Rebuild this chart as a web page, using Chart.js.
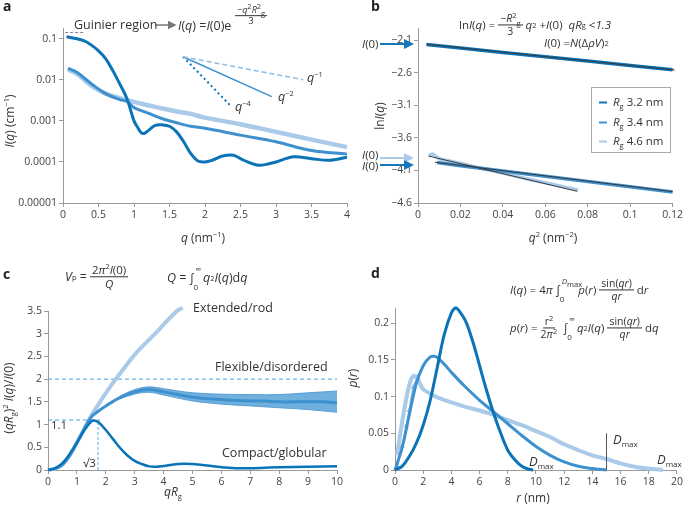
<!DOCTYPE html>
<html>
<head>
<meta charset="utf-8">
<script src="https://cdn.jsdelivr.net/npm/chart.js@4.4.1/dist/chart.umd.min.js"></script>
<style>
  body { margin: 0; background: #fff; }
  #wrap { position: relative; width: 685px; height: 505px; overflow: hidden; background: #fff;
          font-family: "Open Sans", "DejaVu Sans", sans-serif; color: #333; }
  canvas { position: absolute; }
  .t { position: absolute; white-space: nowrap; font-size: 12px; line-height: 1; transform: translateY(-50%); }
  .panel { position: absolute; font-weight: bold; font-size: 14px; color: #222; }
  .rot { position: absolute; white-space: nowrap; font-size: 12px; transform: translate(-50%, -50%) rotate(-90deg); }
  .ctr { position: absolute; white-space: nowrap; font-size: 12px; transform: translate(-50%, -50%); }
  .f { position: absolute; white-space: nowrap; display: flex; align-items: center; font-size: 11.5px; transform: translateY(-50%); }
  .frac { display: inline-flex; flex-direction: column; align-items: center; margin: 0 3px; font-size: 10.5px; line-height: 1.15; }
  .frac .n { border-bottom: 1px solid #333; padding: 0 2px; }
  .int { position: relative; display: inline-block; margin: 0 9px 0 3px; font-size: 12px; }
  .int .hi { position: absolute; left: 6px; top: -6px; font-size: 8px; }
  .int .lo { position: absolute; left: 4px; bottom: -6px; font-size: 8px; }
  sub, sup { font-size: 7.5px; line-height: 0; }
  .leg { position: absolute; left: 591px; top: 87px; width: 78px; height: 64px; border: 1px solid #aaa; background: #fff; }
  .leg div { position: absolute; left: 7px; font-size: 11.5px; white-space: nowrap; transform: translateY(-50%); }
  .leg span.sw { display: inline-block; width: 8px; height: 2px; vertical-align: middle; margin-right: 6px; }
</style>
</head>
<body>
<div id="wrap">
  <canvas id="chartA" style="left:0;top:20px" width="355" height="230"></canvas>
  <canvas id="chartB" style="left:340px;top:20px" width="345" height="230"></canvas>
  <canvas id="chartC" style="left:0;top:300px" width="350" height="205"></canvas>
  <canvas id="chartD" style="left:340px;top:300px" width="345" height="205"></canvas>

  <svg width="685" height="505" style="position:absolute;left:0;top:0;pointer-events:none">
    <defs>
      <marker id="hg" markerWidth="6" markerHeight="6" refX="5" refY="3" orient="auto"><path d="M0,0 L6,3 L0,6 z" fill="#777"/></marker>
      <marker id="hd" markerWidth="5" markerHeight="5" refX="4" refY="2.5" orient="auto"><path d="M0,0 L5,2.5 L0,5 z" fill="#1478bb"/></marker>
      <marker id="hl" markerWidth="5" markerHeight="5" refX="4" refY="2.5" orient="auto"><path d="M0,0 L5,2.5 L0,5 z" fill="#a9cae9"/></marker>
    </defs>
    <line x1="155" y1="25" x2="175" y2="25" stroke="#777" stroke-width="1.5" marker-end="url(#hg)"/>
    <line x1="380" y1="44" x2="412" y2="44" stroke="#1478bb" stroke-width="2" marker-end="url(#hd)"/>
    <line x1="380" y1="158" x2="412" y2="158" stroke="#a9cae9" stroke-width="2" marker-end="url(#hl)"/>
    <line x1="380" y1="165" x2="412" y2="165" stroke="#1478bb" stroke-width="2" marker-end="url(#hd)"/>
  </svg>

  <div class="panel" style="left:3px;top:-4px">a</div>
  <div class="panel" style="left:371px;top:-4px">b</div>
  <div class="panel" style="left:3px;top:264px">c</div>
  <div class="panel" style="left:371px;top:263px">d</div>

  <!-- panel a text -->
  <div class="t" style="left:74px;top:25px;font-size:12.5px">Guinier region</div>
  <div class="f" style="left:178px;top:25px;font-size:12.5px"><i>I</i>(<i>q</i>) = <i>I</i>(0)e</div>
  <div class="f" style="left:232px;top:16px"><span class="frac" style="font-size:9px"><span class="n">&minus;<i>q</i><sup>2</sup><i>R</i><sup>2</sup><sub>g</sub></span><span>3</span></span></div>
  <div class="t" style="left:307px;top:78px;font-size:12.5px"><i>q</i><sup>&minus;1</sup></div>
  <div class="t" style="left:278px;top:97px;font-size:12.5px"><i>q</i><sup>&minus;2</sup></div>
  <div class="t" style="left:235px;top:107px;font-size:12.5px"><i>q</i><sup>&minus;4</sup></div>
  <div class="rot" style="left:9px;top:121px"><i>I</i>(<i>q</i>) (cm<sup>&minus;1</sup>)</div>
  <div class="ctr" style="left:203px;top:237px"><i>q</i> (nm<sup>&minus;1</sup>)</div>

  <!-- panel b text -->
  <div class="f" style="left:459px;top:25px">ln<i>I</i>(<i>q</i>) =<span class="frac"><span class="n">&minus;<i>R</i><sup>2</sup><sub>g</sub></span><span>3</span></span><i>q</i><sup>2</sup>&nbsp;+ <i>I</i>(0)&nbsp;&nbsp;<i>qR</i><sub>g</sub>&nbsp;&lt;<i>1.3</i></div>
  <div class="f" style="left:544px;top:42px"><i>I</i>(0) = <i>N</i>(&Delta;<i>&rho;V</i>)<sup>2</sup></div>
  <div class="t" style="left:362px;top:44px;font-size:11.5px"><i>I</i>(0)</div>
  <div class="t" style="left:362px;top:155px;font-size:11.5px"><i>I</i>(0)</div>
  <div class="t" style="left:362px;top:166px;font-size:11.5px"><i>I</i>(0)</div>
  <div class="rot" style="left:379px;top:116px">ln<i>I</i>(<i>q</i>)</div>
  <div class="ctr" style="left:553px;top:237px"><i>q</i><sup>2</sup> (nm<sup>&minus;2</sup>)</div>
  <div class="leg">
    <div style="top:13px"><span class="sw" style="background:#0b73b7"></span><i>R</i><sub>g</sub> 3.2 nm</div>
    <div style="top:33px"><span class="sw" style="background:#3e91cf"></span><i>R</i><sub>g</sub> 3.4 nm</div>
    <div style="top:52px"><span class="sw" style="background:#a9cae9"></span><i>R</i><sub>g</sub> 4.6 nm</div>
  </div>

  <!-- panel c text -->
  <div class="f" style="left:65px;top:277px;font-size:12.5px"><i>V</i><sub>p</sub>&nbsp;=<span class="frac" style="font-size:11.5px"><span class="n">2<i>&pi;</i><sup>2</sup><i>I</i>(0)</span><span><i>Q</i></span></span></div>
  <div class="f" style="left:167px;top:277px;font-size:12.5px"><i>Q</i>&nbsp;=<span class="int">&int;<span class="hi">&infin;</span><span class="lo">0</span></span><i>q</i><sup>2</sup><i>I</i>(<i>q</i>)d<i>q</i></div>
  <div class="t" style="left:193px;top:308px;font-size:12.5px">Extended/rod</div>
  <div class="t" style="left:215px;top:367px;font-size:12.5px">Flexible/disordered</div>
  <div class="t" style="left:222px;top:453px;font-size:12.5px">Compact/globular</div>
  <div class="t" style="left:51px;top:425px;font-size:11.5px">1.1</div>
  <div class="t" style="left:83px;top:463px;font-size:11.5px">&radic;3</div>
  <div class="rot" style="left:8px;top:398px">(<i>qR</i><sub>g</sub>)<sup>2</sup> <i>I</i>(<i>q</i>)/<i>I</i>(0)</div>
  <div class="ctr" style="left:173px;top:491px"><i>qR</i><sub>g</sub></div>

  <!-- panel d text -->
  <div class="f" style="left:510px;top:290px"><i>I</i>(<i>q</i>) = 4<i>&pi;</i><span class="int">&int;<span class="hi"><i>D</i><sub>max</sub></span><span class="lo">0</span></span>&nbsp;&nbsp;&nbsp;<i>p</i>(<i>r</i>)<span class="frac"><span class="n">sin(<i>qr</i>)</span><span><i>qr</i></span></span>d<i>r</i></div>
  <div class="f" style="left:510px;top:328px"><i>p</i>(<i>r</i>) =<span class="frac"><span class="n">r<sup>2</sup></span><span>2<i>&pi;</i><sup>2</sup></span></span><span class="int">&int;<span class="hi">&infin;</span><span class="lo">0</span></span><i>q</i><sup>2</sup><i>I</i>(<i>q</i>)<span class="frac"><span class="n">sin(<i>qr</i>)</span><span><i>qr</i></span></span>d<i>q</i></div>
  <div class="t" style="left:529px;top:461px;font-size:13px"><i>D</i><sub style="font-size:8px">max</sub></div>
  <div class="t" style="left:613px;top:439px;font-size:13px"><i>D</i><sub style="font-size:8px">max</sub></div>
  <div class="t" style="left:657px;top:459px;font-size:13px"><i>D</i><sub style="font-size:8px">max</sub></div>
  <div class="rot" style="left:352px;top:378px"><i>p</i>(<i>r</i>)</div>
  <div class="ctr" style="left:533px;top:497px"><i>r</i> (nm)</div>
</div>

<script>
// colours
const DARK = '#0b73b7', MID = '#3e91cf', LIGHT = '#a9cae9', GREY = '#888';
const FONT = '"Open Sans", "DejaVu Sans", sans-serif';

// ---- panel a: I(q) vs q (log)
const aCompactQ = [0.05, 0.2, 0.3, 0.4, 0.5, 0.6, 0.7, 0.8, 0.9, 1.0, 1.05, 1.1, 1.15, 1.2, 1.3, 1.4, 1.5, 1.6, 1.7, 1.8, 1.9, 2.0, 2.1, 2.25, 2.4, 2.5, 2.6, 2.75, 2.9, 3.0, 3.25, 3.5, 3.75, 4.0];
const aCompactI = [0.112, 0.1, 0.089, 0.07, 0.051, 0.033, 0.017, 0.0079, 0.0035, 0.001, 0.0007, 0.00052, 0.0005, 0.00058, 0.00078, 0.0008, 0.00074, 0.00054, 0.00031, 0.00016, 0.000105, 0.0001, 0.00011, 0.000139, 0.000145, 0.00012, 0.0001, 0.000083, 0.00009, 0.0001, 0.000133, 0.00012, 0.00011, 0.00013];
const aFlexQ = [0.07, 0.2, 0.4, 0.6, 0.8, 0.9, 1.0, 1.2, 1.4, 1.6, 1.8, 2.0, 2.5, 3.0, 3.5, 4.0];
const aFlexI = [0.019, 0.015, 0.008, 0.0046, 0.0033, 0.003, 0.0021, 0.00154, 0.00113, 0.0009, 0.00074, 0.00066, 0.00045, 0.00031, 0.00019, 0.000155];
const aRodQ = [0.07, 0.2, 0.4, 0.6, 0.8, 1.0, 1.2, 1.4, 1.6, 1.8, 2.0, 2.5, 3.0, 3.5, 4.0];
const aRodI = [0.018, 0.0139, 0.0072, 0.0046, 0.0036, 0.0029, 0.0024, 0.002, 0.0017, 0.00148, 0.0012, 0.00083, 0.00054, 0.00035, 0.00023];
const aGuideQ1 = [1.69, 3.38], aGuideI1 = [0.0366, 0.0101];
const aGuideQ2 = [1.69, 2.94], aGuideI2 = [0.0366, 0.0039];
const aGuideQ4 = [1.69, 2.37], aGuideI4 = [0.0366, 0.00225];
const aI0Q = [0.03, 0.31], aI0I = [0.142, 0.142];
const aXTicks = [0, 0.5, 1, 1.5, 2, 2.5, 3, 3.5, 4];
const aXLabels = ['0', '0.5', '1', '1.5', '2', '2.5', '3', '3.5', '4'];
const aYTicks = [0.00001, 0.0001, 0.001, 0.01, 0.1];
const aYLabels = ['0.00001', '0.0001', '0.001', '0.01', '0.1'];

// ---- panel b: Guinier plots
const b32X = [0.004, 0.02, 0.04, 0.06, 0.08, 0.1, 0.12];
const b32Y = [-2.17, -2.223, -2.29, -2.356, -2.422, -2.489, -2.555];
const b34X = [0.009, 0.02, 0.04, 0.06, 0.08, 0.1, 0.12];
const b34Y = [-3.98, -4.03, -4.11, -4.19, -4.27, -4.35, -4.43];
const b46X = [0.005, 0.007, 0.01, 0.02, 0.03, 0.04, 0.05, 0.06, 0.0755];
const b46Y = [-3.87, -3.85, -3.92, -3.99, -4.07, -4.14, -4.22, -4.29, -4.40];
const bFit32X = [0.004, 0.121], bFit32Y = [-2.165, -2.56];
const bFit34X = [0.008, 0.12], bFit34Y = [-3.975, -4.425];
const bFit46X = [0.005, 0.075], bFit46Y = [-3.88, -4.42];
const bXTicks = [0, 0.02, 0.04, 0.06, 0.08, 0.1, 0.12];
const bXLabels = ['0', '0.02', '0.04', '0.06', '0.08', '0.1', '0.12'];
const bYTicks = [-4.6, -4.1, -3.6, -3.1, -2.6, -2.1];
const bYLabels = ['\u22124.6', '\u22124.1', '\u22123.6', '\u22123.1', '\u22122.6', '\u22122.1'];

// ---- panel c: dimensionless Kratky
const cCompactX = [0, 0.25, 0.5, 0.75, 1, 1.25, 1.5, 1.6, 1.75, 2, 2.25, 2.5, 2.75, 3, 3.25, 3.5, 3.75, 4, 4.5, 4.75, 5, 5.5, 6, 6.5, 7, 7.5, 8, 9, 10];
const cCompactY = [0, 0.04, 0.15, 0.35, 0.6, 0.87, 1.07, 1.09, 1.05, 0.88, 0.68, 0.48, 0.32, 0.2, 0.13, 0.08, 0.07, 0.09, 0.13, 0.14, 0.13, 0.1, 0.06, 0.04, 0.04, 0.05, 0.06, 0.07, 0.08];
const cFlexX = [0, 0.25, 0.5, 0.75, 1, 1.25, 1.5, 1.75, 2, 2.5, 3, 3.5, 4, 4.5, 5, 5.5, 6, 6.5, 7, 7.5, 8, 8.5, 9, 9.5, 10];
const cFlexY = [0, 0.03, 0.12, 0.32, 0.6, 0.9, 1.17, 1.3, 1.41, 1.6, 1.72, 1.77, 1.72, 1.66, 1.6, 1.57, 1.55, 1.53, 1.52, 1.52, 1.5, 1.5, 1.5, 1.5, 1.48];
// scatter envelope of the flexible curve
const cFlexBandX = [2.5, 3, 3.5, 4, 5, 6, 7, 8, 9, 10];
const cFlexBandHi = [1.63, 1.77, 1.83, 1.79, 1.7, 1.67, 1.66, 1.66, 1.7, 1.74];
const cFlexBandLo = [1.57, 1.67, 1.71, 1.65, 1.52, 1.45, 1.41, 1.37, 1.33, 1.27];
const cRodX = [0, 0.25, 0.5, 0.75, 1, 1.25, 1.5, 1.75, 2, 2.25, 2.5, 2.75, 3, 3.25, 3.5, 3.75, 4, 4.25, 4.5, 4.66];
const cRodY = [0, 0.03, 0.12, 0.32, 0.6, 0.9, 1.2, 1.45, 1.69, 1.92, 2.13, 2.34, 2.54, 2.71, 2.87, 3.03, 3.2, 3.37, 3.52, 3.57];
const cRef2X = [0, 10], cRef2Y = [2, 2];
const cRef11X = [0, 1.8], cRef11Y = [1.1, 1.1];
const cSqrt3X = [1.732, 1.732], cSqrt3Y = [0, 1.1];
const cXTicks = [0, 1, 2, 3, 4, 5, 6, 7, 8, 9, 10];
const cYTicks = [0, 0.5, 1, 1.5, 2, 2.5, 3, 3.5];
const cYLabels = ['0', '0.5', '1', '1.5', '2', '2.5', '3', '3.5'];

// ---- panel d: pair distance distributions
const dCompactR = [0, 0.5, 1, 1.5, 2, 2.5, 3, 3.5, 4, 4.3, 4.5, 5, 5.5, 6, 6.5, 7, 7.5, 8, 8.5, 9, 9.5, 9.8];
const dCompactP = [0, 0.005, 0.018, 0.036, 0.061, 0.095, 0.14, 0.185, 0.214, 0.221, 0.218, 0.203, 0.176, 0.142, 0.108, 0.077, 0.05, 0.027, 0.014, 0.005, 0.001, 0];
const dFlexR = [0, 0.5, 1, 1.5, 2, 2.5, 2.8, 3, 3.5, 4, 5, 6, 7, 8, 9, 10, 11, 12, 13, 14, 15];
const dFlexP = [0, 0.03, 0.074, 0.117, 0.142, 0.154, 0.155, 0.153, 0.144, 0.133, 0.113, 0.095, 0.079, 0.063, 0.047, 0.032, 0.02, 0.011, 0.005, 0.002, 0];
const dRodR = [0.15, 0.5, 1, 1.3, 1.6, 2, 2.5, 3, 4, 5, 6, 7, 8, 9, 10, 11, 12, 13, 14, 15, 16, 17, 18, 19];
const dRodP = [0.02, 0.065, 0.115, 0.128, 0.124, 0.11, 0.104, 0.099, 0.092, 0.086, 0.081, 0.075, 0.068, 0.061, 0.053, 0.045, 0.035, 0.027, 0.02, 0.015, 0.009, 0.0045, 0.002, 0];
const dRod2R = [0.15, 0.5, 0.8, 1, 1.3, 1.6];
const dRod2P = [0.005, 0.032, 0.06, 0.081, 0.113, 0.127];
const dDmaxR = [15, 15], dDmaxP = [0, 0.05];
const dXTicks = [0, 2, 4, 6, 8, 10, 12, 14, 16, 18, 20];
const dYTicks = [0, 0.05, 0.1, 0.15, 0.2];
const dYLabels = ['0', '0.05', '0.1', '0.15', '0.2'];

const pts = (xs, ys) => xs.map((x, i) => ({ x, y: ys[i] }));

const line = (label, xs, ys, color, width, extra) => Object.assign({
    label,
    data: pts(xs, ys),
    borderColor: color,
    backgroundColor: color,
    borderWidth: width,
    pointRadius: 0,
    tension: 0.35,
    showLine: true,
    clip: false
}, extra || {});

const axis = (min, max, ticks, labels, size, extra) => Object.assign({
    type: 'linear',
    min, max,
    afterBuildTicks: s => { s.ticks = ticks.map(v => ({ value: v })); },
    afterFit: s => { if (s.isHorizontal()) s.height = size; else s.width = size; },
    grid: { drawOnChartArea: false, drawTicks: true, tickLength: 4, color: '#9a9a9a' },
    border: { color: '#9a9a9a', width: 1 },
    ticks: {
        color: '#444', padding: 2, autoSkip: false, maxRotation: 0,
        font: { family: FONT, size: 10.5 },
        callback: (v, i) => labels[i]
    }
}, extra || {});

const baseOptions = (padding, scales) => ({
    responsive: false,
    animation: false,
    devicePixelRatio: 1,
    layout: { padding },
    plugins: { legend: { display: false }, tooltip: { enabled: false } },
    scales
});

Chart.defaults.font.family = FONT;

new Chart(document.getElementById('chartA'), {
    type: 'scatter',
    data: {
        datasets: [
            line('Compact', aCompactQ, aCompactI, DARK, 3),
            line('Flexible', aFlexQ, aFlexI, MID, 3),
            line('Extended', aRodQ, aRodI, LIGHT, 4.5),
            line('q-1', aGuideQ1, aGuideI1, '#8fbde3', 1.5, { tension: 0, borderDash: [5, 3] }),
            line('q-2', aGuideQ2, aGuideI2, MID, 1.5, { tension: 0 }),
            line('q-4', aGuideQ4, aGuideI4, DARK, 2, { tension: 0, borderDash: [2, 3] }),
            line('I0', aI0Q, aI0I, GREY, 1, { tension: 0, borderDash: [3, 2] })
        ]
    },
    options: baseOptions({ left: 0, top: 7, right: 8, bottom: 0 }, {
        x: axis(0, 4, aXTicks, aXLabels, 47),
        y: axis(0.00001, 0.18, aYTicks, aYLabels, 63, { type: 'logarithmic' })
    })
});

new Chart(document.getElementById('chartB'), {
    type: 'scatter',
    data: {
        datasets: [
            line('fit 3.2', bFit32X, bFit32Y, '#3a3a3a', 1, { tension: 0 }),
            line('fit 3.4', bFit34X, bFit34Y, '#3a3a3a', 1, { tension: 0 }),
            line('fit 4.6', bFit46X, bFit46Y, '#3a3a3a', 1, { tension: 0 }),
            line('Rg 3.2 nm', b32X, b32Y, DARK, 3.5, { tension: 0 }),
            line('Rg 3.4 nm', b34X, b34Y, MID, 3.5, { tension: 0 }),
            line('Rg 4.6 nm', b46X, b46Y, LIGHT, 3.5, { tension: 0.2 })
        ]
    },
    options: baseOptions({ left: 0, top: 7, right: 8, bottom: 0 }, {
        x: axis(0, 0.12, bXTicks, bXLabels, 47),
        y: axis(-4.6, -1.92, bYTicks, bYLabels, 78)
    })
});

new Chart(document.getElementById('chartC'), {
    type: 'scatter',
    data: {
        datasets: [
            line('Compact', cCompactX, cCompactY, DARK, 2.5),
            line('Flexible', cFlexX, cFlexY, MID, 3),
            line('Flexible hi', cFlexBandX, cFlexBandHi, 'rgba(62,145,207,0.8)', 1, { fill: '+1', backgroundColor: 'rgba(78,155,213,0.8)' }),
            line('Flexible lo', cFlexBandX, cFlexBandLo, 'rgba(62,145,207,0.8)', 1),
            line('Extended', cRodX, cRodY, LIGHT, 4),
            line('y=2', cRef2X, cRef2Y, '#4a9fd6', 1, { tension: 0, borderDash: [4, 3] }),
            line('y=1.1', cRef11X, cRef11Y, '#4a9fd6', 1, { tension: 0, borderDash: [4, 3] }),
            line('sqrt3', cSqrt3X, cSqrt3Y, '#7ab8e3', 1.2, { tension: 0, borderDash: [3, 2] })
        ]
    },
    options: baseOptions({ left: 0, top: 11, right: 13, bottom: 0 }, {
        x: axis(0, 10, cXTicks, cXTicks.map(String), 35),
        y: axis(0, 3.5, cYTicks, cYLabels, 48)
    })
});

new Chart(document.getElementById('chartD'), {
    type: 'scatter',
    data: {
        datasets: [
            line('Dmax', dDmaxR, dDmaxP, '#555', 1, { tension: 0 }),
            line('Compact', dCompactR, dCompactP, DARK, 3),
            line('Flexible', dFlexR, dFlexP, MID, 3),
            line('Extended', dRodR, dRodP, LIGHT, 4),
            line('Extended 2', dRod2R, dRod2P, '#7fb6e0', 1.5, { pointRadius: 1.5, pointStyle: 'triangle' })
        ]
    },
    options: baseOptions({ left: 0, top: 7, right: 5, bottom: 0 }, {
        x: axis(0, 20, dXTicks, dXTicks.map(String), 35),
        y: axis(0, 0.2203, dYTicks, dYLabels, 55)
    })
});
</script>
</body>
</html>
